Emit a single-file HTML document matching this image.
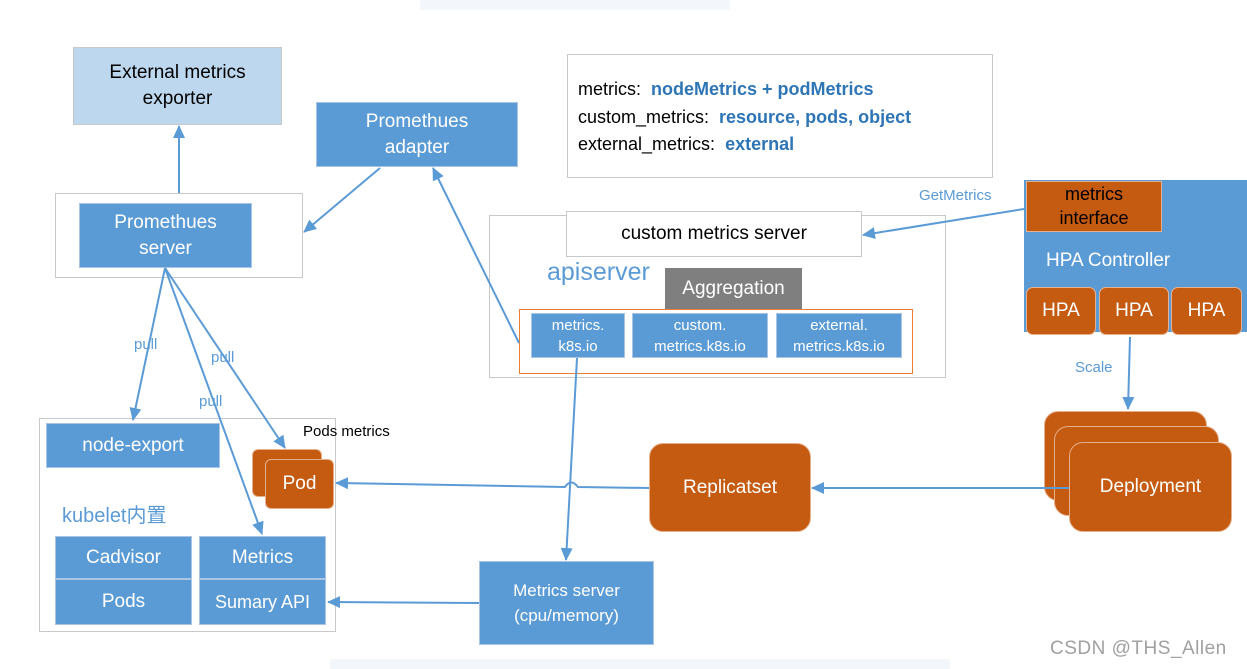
<!DOCTYPE html>
<html><head><meta charset="utf-8"><style>
body{margin:0;width:1247px;height:669px;background:#fff;position:relative;overflow:hidden;font-family:"Liberation Sans","Noto Sans CJK SC",sans-serif}
.b{position:absolute;box-sizing:border-box;display:flex;align-items:center;justify-content:center;text-align:center;line-height:1.35}
.blue{background:#5b9bd5;color:#fff;border:1px solid #a9c4e4}
.or{background:#c55a11;color:#fff;border:1px solid #e6b08c}
.w{background:#fff;border:1px solid #c8c8c8}
.t{position:absolute;white-space:nowrap}
svg{position:absolute;left:0;top:0}
</style></head><body>
<div style="position:absolute;left:420px;top:0;width:310px;height:10px;background:#f3f6fb"></div>
<div style="position:absolute;left:330px;top:659px;width:620px;height:10px;background:#f3f6fb"></div>

<div class="b" style="left:73px;top:47px;width:209px;height:78px;background:#bdd7ee;border:1px solid #c8c8c8;font-size:19px;color:#000">External metrics<br>exporter</div>
<div class="b blue" style="left:316px;top:102px;width:202px;height:65px;font-size:19px">Promethues<br>adapter</div>
<div class="b w" style="left:55px;top:193px;width:248px;height:85px"></div>
<div class="b blue" style="left:79px;top:203px;width:173px;height:65px;font-size:19px">Promethues<br>server</div>

<div class="b w" style="left:567px;top:54px;width:426px;height:124px;display:block;text-align:left;padding:21px 0 0 10px;font-size:18px;line-height:27.5px;color:#000">metrics:&nbsp; <b style="color:#2e75b6">nodeMetrics + podMetrics</b><br>custom_metrics:&nbsp; <b style="color:#2e75b6">resource, pods, object</b><br>external_metrics:&nbsp; <b style="color:#2e75b6">external</b></div>

<div class="b w" style="left:489px;top:215px;width:457px;height:163px"></div>
<div class="b w" style="left:566px;top:211px;width:296px;height:46px;font-size:19px;color:#000">custom metrics server</div>
<div class="t" style="left:547px;top:258px;font-size:25px;color:#5b9bd5">apiserver</div>
<div class="b" style="left:665px;top:268px;width:137px;height:41px;background:#7f7f7f;color:#fff;font-size:19px">Aggregation</div>
<div class="b" style="left:519px;top:309px;width:394px;height:65px;border:1.5px solid #ed7d31"></div>
<div class="b blue" style="left:531px;top:313px;width:94px;height:45px;font-size:15px;line-height:1.4">metrics.<br>k8s.io</div>
<div class="b blue" style="left:632px;top:313px;width:136px;height:45px;font-size:15px;line-height:1.4">custom.<br>metrics.k8s.io</div>
<div class="b blue" style="left:776px;top:313px;width:126px;height:45px;font-size:15px;line-height:1.4">external.<br>metrics.k8s.io</div>

<div class="b" style="left:1024px;top:180px;width:223px;height:152px;background:#5b9bd5"></div>
<div class="b or" style="left:1026px;top:181px;width:136px;height:51px;font-size:18px;color:#000;line-height:1.3;border-color:#e6b08c">metrics<br>interface</div>
<div class="t" style="left:1046px;top:250px;font-size:19px;color:#fff">HPA Controller</div>
<div class="b or" style="left:1026px;top:287px;width:70px;height:48px;border-radius:7px;font-size:19px">HPA</div>
<div class="b or" style="left:1099px;top:287px;width:70px;height:48px;border-radius:7px;font-size:19px">HPA</div>
<div class="b or" style="left:1171px;top:287px;width:71px;height:48px;border-radius:7px;font-size:19px">HPA</div>
<div class="t" style="left:919px;top:187px;font-size:15px;color:#5b9bd5">GetMetrics</div>
<div class="t" style="left:1075px;top:359px;font-size:15px;color:#5b9bd5">Scale</div>

<div class="b or" style="left:1044px;top:411px;width:163px;height:90px;border-radius:14px"></div>
<div class="b or" style="left:1054px;top:426px;width:165px;height:90px;border-radius:14px"></div>
<div class="b or" style="left:1069px;top:442px;width:163px;height:90px;border-radius:14px;font-size:19px">Deployment</div>
<div class="b or" style="left:649px;top:443px;width:162px;height:89px;border-radius:14px;font-size:19px">Replicatset</div>

<div class="b w" style="left:39px;top:418px;width:297px;height:214px"></div>
<div class="b blue" style="left:46px;top:423px;width:174px;height:45px;font-size:19px">node-export</div>
<div class="t" style="left:303px;top:423px;font-size:15px;color:#000">Pods metrics</div>
<div class="b or" style="left:252px;top:449px;width:70px;height:48px;border-radius:6px"></div>
<div class="b or" style="left:265px;top:459px;width:69px;height:50px;border-radius:6px;font-size:19px">Pod</div>
<div class="t" style="left:62px;top:499px;font-size:20px;color:#5b9bd5">kubelet内置</div>
<div class="b blue" style="left:55px;top:536px;width:137px;height:43px;font-size:19px">Cadvisor</div>
<div class="b blue" style="left:55px;top:579px;width:137px;height:46px;font-size:19px">Pods</div>
<div class="b blue" style="left:199px;top:536px;width:127px;height:43px;font-size:19px">Metrics</div>
<div class="b blue" style="left:199px;top:579px;width:127px;height:46px;font-size:18px">Sumary API</div>
<div class="b blue" style="left:479px;top:561px;width:175px;height:84px;font-size:17px;line-height:1.5">Metrics server<br>(cpu/memory)</div>

<div class="t" style="left:134px;top:336px;font-size:15px;color:#5b9bd5">pull</div>
<div class="t" style="left:211px;top:349px;font-size:15px;color:#5b9bd5">pull</div>
<div class="t" style="left:199px;top:393px;font-size:15px;color:#5b9bd5">pull</div>
<div class="t" style="left:1050px;top:638px;font-size:19px;color:#a0a0a0;letter-spacing:0.5px">CSDN @THS_Allen</div>

<svg width="1247" height="669">
<defs><marker id="a" markerWidth="14" markerHeight="14" refX="12" refY="6" orient="auto" markerUnits="userSpaceOnUse"><path d="M0,0L13,6L0,12z" fill="#5b9bd5"/></marker></defs>
<g stroke="#5b9bd5" stroke-width="2" fill="none" marker-end="url(#a)">
<path d="M179,193L179,126"/>
<path d="M380,168L304,232"/>
<path d="M519,343L433,168"/>
<path d="M1024,209L863,235"/>
<path d="M1130,337L1128,409"/>
<path d="M1069,488L812,488"/>
<path d="M649,488L578,487Q571,478 565,487L336,483"/>
<path d="M577,358L566,560"/>
<path d="M479,603L328,602"/>
<path d="M165,268L133,420"/>
<path d="M165,268L285,448"/>
<path d="M165,268L262,534"/>
</g>
</svg>
</body></html>
